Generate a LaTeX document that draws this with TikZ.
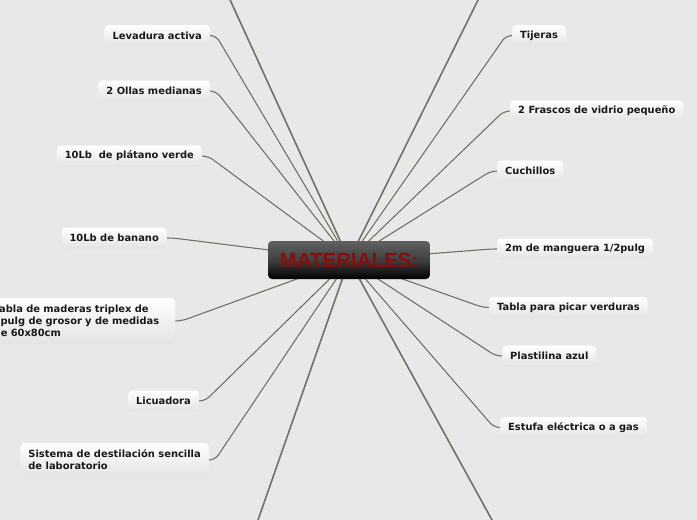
\documentclass[tikz,border=0pt]{standalone}
\usepackage{fontspec}
\setmainfont{DejaVu Sans}
\newfontfamily\titlefont{Liberation Sans}
\usetikzlibrary{backgrounds}

\definecolor{bgcol}{HTML}{E8E8E8}
\definecolor{linkcol}{HTML}{727264}
\definecolor{titlecol}{HTML}{8A0C0C}

\tikzstyle{leaf} = [rectangle, rounded corners=4pt, top color=white, bottom color=black!11,
    inner xsep=8pt, inner ysep=0pt, minimum height=21pt,
    font=\bfseries\fontsize{9.9}{12}\selectfont, text=black!90]
\tikzstyle{leafl} = [leaf, anchor=east]
\tikzstyle{leafr} = [leaf, anchor=west]
\tikzstyle{link} = [draw=linkcol, line width=1.1pt, rounded corners=6pt]
\tikzstyle{mainlink} = [draw=linkcol, line width=1.6pt]

\begin{document}
\begin{tikzpicture}[x=1pt, y=-1pt]
    \clip (0,0) rectangle (697,520);
    \useasboundingbox (0,0) rectangle (697,520);

    \node [rectangle, rounded corners=4pt, top color=black!62, bottom color=black, middle color=black!75,
        minimum width=162pt, minimum height=38pt, inner sep=0pt,
        font=\titlefont\bfseries\fontsize{20.5}{24}\selectfont, text=titlecol] (Mat) at (349,260) {MATERIALES:};

    % left side
    \node [leafl] (Levadura) at (210,35.5) {Levadura activa};
    \node [leafl] (Ollas) at (210,91) {2 Ollas medianas};
    \node [leafl] (Platano) at (202,156) {10Lb\ \ de plátano verde};
    \node [leafl] (Banano) at (167,238) {10Lb de banano};
    \node [leaf, anchor=west, align=left, text width=173.5pt, minimum height=46pt] (Tabla) at (-14.5,321)
        {Tabla de maderas triplex de\\1pulg de grosor y de medidas\\de 60x80cm};
    \node [leafl] (Licuadora) at (199,401) {Licuadora};
    \node [leafl, align=left, minimum height=34pt] (Sistema) at (209,460) {Sistema de destilación sencilla\\de laboratorio};

    % right side
    \node [leafr] (Tijeras) at (512,35.5) {Tijeras};
    \node [leafr] (Frascos) at (510,111) {2 Frascos de vidrio pequeño};
    \node [leafr] (Cuchillos) at (497,171) {Cuchillos};
    \node [leafr] (Manguera) at (497,249) {2m de manguera 1/2pulg};
    \node [leafr] (Picar) at (489,307.5) {Tabla para picar verduras};
    \node [leafr] (Plastilina) at (502,356) {Plastilina azul};
    \node [leafr] (Estufa) at (500,427.5) {Estufa eléctrica o a gas};

    % branches leaving the view
    \coordinate (TopL) at (221,-20);
    \coordinate (TopR) at (488,-20);
    \coordinate (BotL) at (251,540);
    \coordinate (BotR) at (503,540);

    \begin{scope}[on background layer]
        \fill [bgcol] (0,0) rectangle (697,520);
        \foreach \n in {TopL, TopR, BotL, BotR}
            \path [mainlink] (Mat.center) -- (\n);
        \foreach \n in {Levadura, Ollas, Platano, Banano, Tabla, Licuadora, Sistema}
            \path [link] (\n.east) -- ++(6,0) -- (Mat.center);
        \foreach \n in {Tijeras, Frascos, Cuchillos, Manguera, Picar, Plastilina, Estufa}
            \path [link] (\n.west) -- ++(-6,0) -- (Mat.center);
    \end{scope}
\end{tikzpicture}
\end{document}
